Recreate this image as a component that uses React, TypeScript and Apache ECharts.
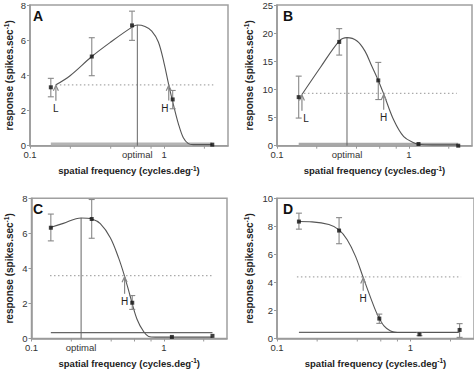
import React, { useEffect, useRef } from 'react';
import * as echarts from 'echarts';

const FONT = '"Liberation Sans", Arial, Helvetica, sans-serif';

// ---------- Panel A ----------
const freqA = [0.143, 0.289, 0.577, 1.16, 2.29];
const respA = [3.32, 5.07, 6.84, 2.63, 0.06];
const errLoA = [2.78, 3.98, 5.99, 2.1, null];
const errHiA = [3.83, 6.14, 7.65, 3.14, null];
const curveFA = [0.156, 0.199, 0.289, 0.395, 0.577, 0.632, 0.721, 0.81, 0.907, 1.0, 1.084, 1.173, 1.278, 1.393, 1.518, 1.65, 2.29];
const curveVA = [3.46, 3.98, 5.07, 5.86, 6.74, 6.86, 6.78, 6.52, 5.9, 4.7, 3.46, 2.35, 1.26, 0.45, 0.12, 0.06, 0.06];
const baseA = [0.1, 0.143, 2.29]; // level, from, to
const halfA = [3.46, 0.156, 2.33];
const optimalA = [0.632, 6.86];
const arrowFA = [0.156, 1.084];
const arrowFromA = [2.55, 2.57];
const arrowToA = [3.46, 3.46];
const arrowTextA = ['L', 'H'];

// ---------- Panel B ----------
const freqB = [0.146, 0.296, 0.585, 1.18, 2.36];
const respB = [8.63, 18.44, 11.6, 0.3, 0.0];
const errLoB = [4.91, 16.1, 8.2, null, null];
const errHiB = [12.36, 20.8, 14.8, null, null];
const curveFB = [0.1545, 0.213, 0.296, 0.339, 0.404, 0.464, 0.521, 0.585, 0.643, 0.766, 0.912, 1.085, 1.184, 1.5, 2.31];
const curveVB = [9.1, 13.9, 18.6, 19.2, 18.6, 16.8, 14.2, 11.6, 9.2, 4.56, 1.6, 0.53, 0.25, 0.15, 0.15];
const baseB = [0.25, 0.146, 2.36];
const halfB = [9.3, 0.16, 2.3];
const optimalB = [0.339, 19.2];
const arrowFB = [0.1545, 0.643];
const arrowFromB = [6.2, 6.4];
const arrowToB = [9.1, 9.2];
const arrowTextB = ['L', 'H'];

// ---------- Panel C ----------
const freqC = [0.14, 0.285, 0.577, 1.15, 2.33];
const respC = [6.32, 6.82, 2.04, 0.09, 0.15];
const errLoC = [5.57, 5.72, 1.66, null, null];
const errHiC = [7.1, 7.93, 2.45, null, null];
const curveFC = [0.1405, 0.174, 0.237, 0.286, 0.331, 0.394, 0.455, 0.505, 0.557, 0.627, 0.703, 0.767, 0.862, 2.33];
const curveVC = [6.35, 6.57, 6.88, 6.82, 6.55, 5.75, 4.6, 3.55, 2.41, 1.1, 0.4, 0.12, 0.08, 0.08];
const baseC = [0.34, 0.14, 2.33];
const halfC = [3.59, 0.138, 2.33];
const optimalC = [0.237, 6.88];
const arrowFC = [0.505];
const arrowFromC = [2.55];
const arrowToC = [3.55];
const arrowTextC = ['H'];

// ---------- Panel D ----------
const freqD = [0.146, 0.292, 0.585, 1.17, 2.34];
const respD = [8.34, 7.7, 1.42, 0.3, 0.61];
const errLoD = [7.8, 6.76, 1.08, 0.2, 0.08];
const errHiD = [8.94, 8.62, 1.74, 0.42, 1.06];
const curveFD = [0.146, 0.183, 0.245, 0.292, 0.336, 0.388, 0.443, 0.504, 0.565, 0.634, 0.711, 0.798, 2.3];
const curveVD = [8.34, 8.32, 8.13, 7.75, 7.04, 5.86, 4.35, 2.9, 1.72, 0.9, 0.54, 0.43, 0.43];
const baseD = [0.43, 0.146, 2.3];
const halfD = [4.4, 0.141, 2.4];
const arrowFD = [0.443];
const arrowFromD = [3.4];
const arrowToD = [4.35];
const arrowTextD = ['H'];

// shared axis settings
const xMin = 0.1;
const xMax = 3;
const minorTickValues = [0.2, 0.4, 0.6, 0.8, 2];
const yMaxes = [8, 25, 8, 10];
const yIntervals = [2, 5, 2, 2];
const letters = ['A', 'B', 'C', 'D'];
const yTitle = 'response (spikes.sec{s|-1})';
const xTitle = 'spatial frequency (cycles.deg{s|-1})';

type PanelData = {
  freq: number[]; resp: number[]; errLo: (number | null)[]; errHi: (number | null)[];
  curveF: number[]; curveV: number[]; base: number[]; half: number[];
  optimal: number[] | null; arrowF: number[]; arrowFrom: number[]; arrowTo: number[]; arrowText: string[];
};

const panels: PanelData[] = [
  { freq: freqA, resp: respA, errLo: errLoA, errHi: errHiA, curveF: curveFA, curveV: curveVA, base: baseA, half: halfA, optimal: optimalA, arrowF: arrowFA, arrowFrom: arrowFromA, arrowTo: arrowToA, arrowText: arrowTextA },
  { freq: freqB, resp: respB, errLo: errLoB, errHi: errHiB, curveF: curveFB, curveV: curveVB, base: baseB, half: halfB, optimal: optimalB, arrowF: arrowFB, arrowFrom: arrowFromB, arrowTo: arrowToB, arrowText: arrowTextB },
  { freq: freqC, resp: respC, errLo: errLoC, errHi: errHiC, curveF: curveFC, curveV: curveVC, base: baseC, half: halfC, optimal: optimalC, arrowF: arrowFC, arrowFrom: arrowFromC, arrowTo: arrowToC, arrowText: arrowTextC },
  { freq: freqD, resp: respD, errLo: errLoD, errHi: errHiD, curveF: curveFD, curveV: curveVD, base: baseD, half: halfD, optimal: null, arrowF: arrowFD, arrowFrom: arrowFromD, arrowTo: arrowToD, arrowText: arrowTextD },
];

// layout (styling)
const grids = [
  { left: 30, top: 3.7, width: 198, height: 142 },
  { left: 277, top: 4.7, width: 195, height: 141 },
  { left: 31.5, top: 198.3, width: 195.5, height: 141 },
  { left: 277, top: 198.3, width: 198, height: 141 },
];
const yNameGaps = [15, 22, 16.5, 22];
const xNameGaps = [19, 19, 18.5, 18.5];
const arrowLabelDx = [[0, -4], [4, 0], [0], [0]];
const letterPos = [[33, 9], [283, 9], [33, 202], [283, 202]];
const baseStyles = [
  { color: '#b4b4b4', width: 3 },
  { color: '#a8a8a8', width: 3 },
  { color: '#666', width: 1.2 },
  { color: '#666', width: 1.2 },
];

function buildOption() {
  const grid: any[] = [];
  const xAxis: any[] = [];
  const yAxis: any[] = [];
  const series: any[] = [];
  const graphic: any[] = [];

  panels.forEach((p, i) => {
    grid.push({ ...grids[i], show: true, borderColor: '#a0a0a0', borderWidth: 1.5, containLabel: false });
    xAxis.push({
      type: 'log', logBase: 10, gridIndex: i, min: xMin, max: xMax,
      name: xTitle, nameLocation: 'middle', nameGap: xNameGaps[i],
      nameTextStyle: {
        fontFamily: FONT, fontWeight: 'bold', fontSize: 9.5, color: '#222',
        rich: { s: { fontFamily: FONT, fontWeight: 'bold', fontSize: 6.5, verticalAlign: 'top', padding: [0, 0, 5, 0] } },
      },
      axisLine: { show: true, lineStyle: { color: '#999', width: 1.5 } },
      axisTick: { show: true, length: 3, inside: false, lineStyle: { color: '#999' } },
      axisLabel: {
        show: true, margin: 4, fontFamily: FONT, fontSize: 9.5, color: '#333', showMaxLabel: false,
        formatter: (v: number) => String(+v.toFixed(2)),
      },
      minorTick: { show: false },
      splitLine: { show: false },
    });
    yAxis.push({
      type: 'value', gridIndex: i, min: 0, max: yMaxes[i], interval: yIntervals[i],
      name: yTitle, nameLocation: 'middle', nameGap: yNameGaps[i],
      nameTextStyle: {
        fontFamily: FONT, fontWeight: 'bold', fontSize: 10, color: '#222',
        rich: { s: { fontFamily: FONT, fontWeight: 'bold', fontSize: 6.5, verticalAlign: 'top', padding: [0, 0, 5, 0] } },
      },
      axisLine: { show: true, lineStyle: { color: '#999', width: 1.5 } },
      axisTick: { show: true, length: 3, lineStyle: { color: '#999' } },
      axisLabel: { margin: 4, fontFamily: FONT, fontSize: 9.5, color: '#333' },
      splitLine: { show: false },
    });

    const ax = { xAxisIndex: i, yAxisIndex: i };

    // minor ticks on the log axis
    series.push({
      type: 'custom', ...ax, clip: false, silent: true, z: 1,
      data: minorTickValues.map((v) => [v, 0]),
      encode: { x: 0, y: 1 },
      renderItem: (params: any, api: any) => {
        const pt = api.coord([api.value(0), 0]);
        return { type: 'line', shape: { x1: pt[0], y1: pt[1], x2: pt[0], y2: pt[1] + 3 }, style: { stroke: '#999', lineWidth: 1 } };
      },
    });

    // baseline (spontaneous)
    series.push({
      type: 'line', ...ax, symbol: 'none', silent: true, z: 2,
      data: [[p.base[1], p.base[0]], [p.base[2], p.base[0]]],
      lineStyle: { color: baseStyles[i].color, width: baseStyles[i].width },
    });
    // half-maximum dotted line
    series.push({
      type: 'line', ...ax, symbol: 'none', silent: true, z: 2,
      data: [[p.half[1], p.half[0]], [p.half[2], p.half[0]]],
      lineStyle: { color: '#aaa', width: 1.2, type: [1.5, 2.5] },
    });
    // optimal line + label
    if (p.optimal) {
      series.push({
        type: 'line', ...ax, symbol: 'none', silent: true, z: 2,
        data: [[p.optimal[0], 0], [p.optimal[0], p.optimal[1]]],
        lineStyle: { color: '#666', width: 1 },
      });
      series.push({
        type: 'custom', ...ax, clip: false, silent: true, z: 5,
        data: [[p.optimal[0], 0]],
        encode: { x: 0, y: 1 },
        renderItem: (params: any, api: any) => {
          const pt = api.coord([api.value(0), 0]);
          return {
            type: 'text', x: pt[0], y: pt[1] + 4,
            style: { text: 'optimal', fill: '#333', fontFamily: FONT, fontSize: 9.5, align: 'center', verticalAlign: 'top' },
          };
        },
      });
    }
    // fitted curve
    series.push({
      type: 'line', ...ax, symbol: 'none', silent: true, z: 3, smooth: 0.35,
      data: p.curveF.map((f, j) => [f, p.curveV[j]]),
      lineStyle: { color: '#555', width: 1.1 },
    });
    // error bars
    const errData: number[][] = [];
    p.freq.forEach((f, j) => {
      const lo = p.errLo[j];
      const hi = p.errHi[j];
      if (lo !== null && hi !== null) errData.push([f, lo, hi]);
    });
    series.push({
      type: 'custom', ...ax, clip: false, silent: true, z: 4,
      data: errData,
      encode: { x: 0, y: [1, 2] },
      renderItem: (params: any, api: any) => {
        const lo = api.coord([api.value(0), api.value(1)]);
        const hi = api.coord([api.value(0), api.value(2)]);
        const st = { stroke: '#888', lineWidth: 1.1 };
        return {
          type: 'group',
          children: [
            { type: 'line', shape: { x1: lo[0], y1: lo[1], x2: hi[0], y2: hi[1] }, style: st },
            { type: 'line', shape: { x1: lo[0] - 3, y1: lo[1], x2: lo[0] + 3, y2: lo[1] }, style: st },
            { type: 'line', shape: { x1: hi[0] - 3, y1: hi[1], x2: hi[0] + 3, y2: hi[1] }, style: st },
          ],
        };
      },
    });
    // data points
    series.push({
      type: 'scatter', ...ax, symbol: 'rect', symbolSize: 4, silent: true, z: 6,
      itemStyle: { color: '#111' },
      data: p.freq.map((f, j) => [f, p.resp[j]]),
    });
    // arrows (L / H)
    const dxs = arrowLabelDx[i];
    series.push({
      type: 'custom', ...ax, clip: false, silent: true, z: 5,
      data: p.arrowF.map((f, j) => [f, p.arrowFrom[j], p.arrowTo[j]]),
      encode: { x: 0, y: [1, 2] },
      renderItem: (params: any, api: any) => {
        const j = params.dataIndex;
        const bot = api.coord([api.value(0), api.value(1)]);
        const top = api.coord([api.value(0), api.value(2)]);
        const st = { stroke: '#888', lineWidth: 1.2, fill: 'none' };
        return {
          type: 'group',
          children: [
            { type: 'line', shape: { x1: bot[0], y1: bot[1], x2: top[0], y2: top[1] + 1 }, style: st },
            { type: 'polyline', shape: { points: [[top[0] - 2.5, top[1] + 6], [top[0], top[1] + 0.5], [top[0] + 2.5, top[1] + 6]] }, style: st },
            {
              type: 'text', x: bot[0] + (dxs[j] || 0), y: bot[1] + 8,
              style: { text: p.arrowText[j], fill: '#222', fontFamily: FONT, fontSize: 10, align: 'center', verticalAlign: 'middle' },
            },
          ],
        };
      },
    });

    graphic.push({
      type: 'text', left: letterPos[i][0], top: letterPos[i][1], z: 10,
      style: { text: letters[i], fill: '#111', fontFamily: FONT, fontWeight: 'bold', fontSize: 14 },
    });
  });

  return { animation: false, backgroundColor: '#fff', grid, xAxis, yAxis, series, graphic };
}

export default function App() {
  const ref = useRef<HTMLDivElement>(null);
  useEffect(() => {
    document.body.style.margin = '0';
    if (!ref.current) return;
    const chart = echarts.init(ref.current, null, { renderer: 'svg' });
    chart.setOption(buildOption() as any);
    return () => chart.dispose();
  }, []);
  return <div ref={ref} style={{ position: 'absolute', left: 0, top: 0, width: 474, height: 369 }} />;
}
